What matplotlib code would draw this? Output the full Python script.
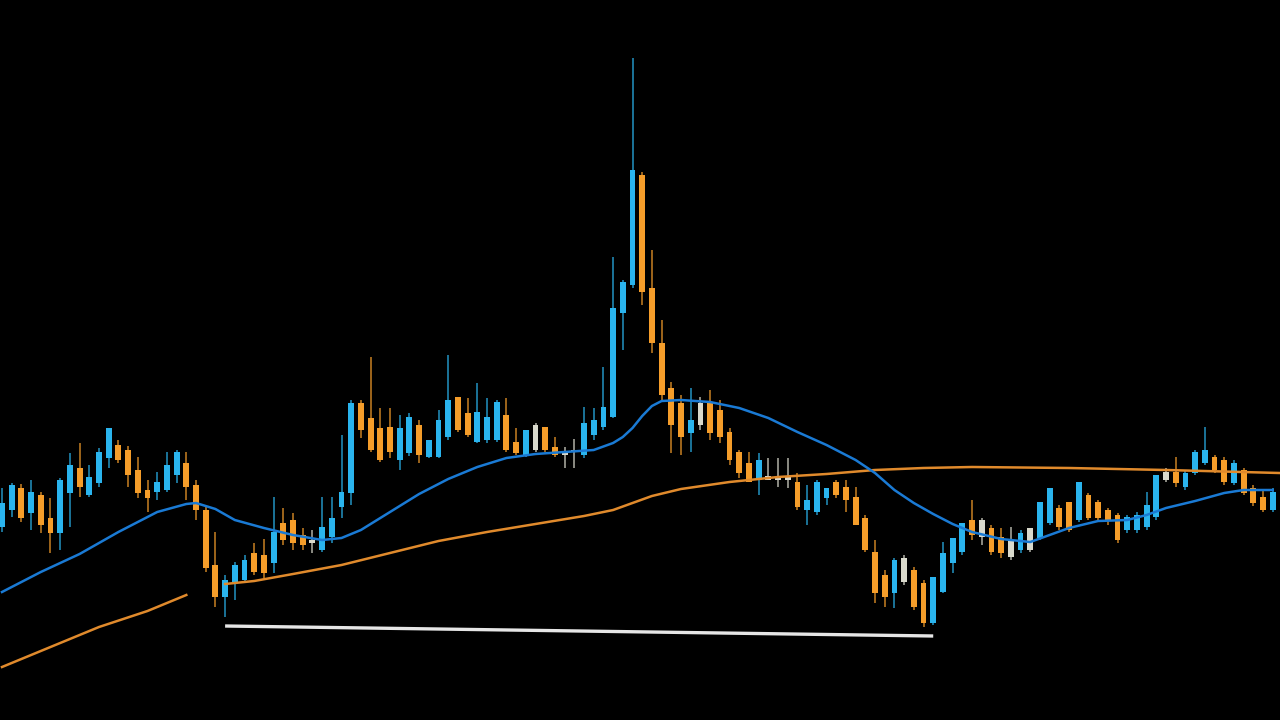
import numpy as np
import pandas as pd
import matplotlib
matplotlib.use('Agg')
import matplotlib.pyplot as plt

# candle prices (arbitrary units)
opens = [193, 210, 232, 207, 225, 202, 187, 227, 252, 225, 237, 262, 275, 270, 250, 230, 228, 230, 245, 257,
         235, 210, 155, 123, 137, 140, 167, 165, 157, 197, 200, 185, 180, 170, 183, 213, 227, 317, 302, 292,
         293, 260, 267, 295, 263, 263, 283, 323, 307, 278, 280, 280, 305, 278, 265, 270, 293, 273, 265, 268,
         265, 285, 293, 303, 407, 435, 545, 432, 377, 332, 317, 287, 295, 317, 310, 288, 268, 257, 240, 240,
         240, 240, 238, 210, 208, 222, 238, 233, 223, 202, 168, 145, 127, 138, 150, 137, 97, 128, 157, 168,
         200, 200, 192, 183, 163, 170, 170, 182, 197, 212, 218, 200, 225, 218, 210, 205, 190, 190, 193, 203,
         240, 248, 233, 247, 257, 263, 260, 237, 250, 232, 223, 210]
highs = [232, 237, 236, 240, 228, 222, 242, 267, 277, 255, 272, 292, 280, 274, 263, 240, 248, 268, 270, 268,
         240, 213, 188, 145, 158, 165, 177, 181, 223, 212, 207, 192, 190, 223, 223, 285, 320, 320, 363, 312,
         312, 305, 307, 300, 280, 310, 365, 323, 322, 337, 322, 320, 322, 292, 290, 297, 293, 283, 273, 281,
         313, 312, 353, 463, 440, 662, 548, 470, 400, 338, 325, 332, 323, 330, 320, 292, 270, 268, 267, 262,
         262, 262, 247, 235, 240, 232, 240, 240, 233, 205, 180, 150, 162, 165, 153, 140, 143, 178, 182, 197,
         220, 202, 195, 192, 193, 190, 192, 218, 232, 215, 218, 238, 227, 220, 212, 207, 205, 208, 228, 245,
         252, 263, 250, 270, 293, 265, 263, 260, 252, 235, 230, 232]
lows = [188, 203, 198, 190, 187, 167, 170, 193, 223, 223, 233, 252, 257, 233, 222, 208, 220, 228, 237, 220,
        200, 148, 113, 103, 120, 137, 145, 142, 147, 175, 170, 170, 167, 168, 177, 202, 215, 282, 268, 258,
        262, 250, 264, 257, 262, 262, 280, 288, 283, 277, 277, 278, 268, 265, 263, 268, 268, 263, 252, 252,
        262, 280, 290, 302, 370, 432, 415, 367, 320, 267, 265, 268, 290, 280, 277, 255, 242, 238, 225, 240,
        233, 232, 210, 195, 205, 215, 222, 208, 195, 168, 117, 113, 112, 135, 110, 93, 95, 127, 147, 165,
        180, 175, 165, 162, 160, 167, 168, 180, 195, 190, 188, 198, 200, 200, 195, 177, 187, 187, 190, 200,
        238, 233, 230, 245, 255, 247, 235, 235, 225, 214, 208, 208]
closes = [217, 235, 202, 228, 195, 187, 240, 255, 233, 243, 268, 292, 260, 245, 227, 222, 238, 255, 268, 233,
          210, 152, 123, 140, 155, 160, 148, 147, 188, 180, 177, 175, 177, 193, 202, 228, 317, 290, 270, 260,
          268, 292, 303, 265, 280, 300, 320, 290, 285, 308, 303, 318, 270, 267, 290, 295, 270, 265, 268, 270,
          297, 300, 313, 412, 438, 550, 428, 377, 325, 295, 283, 300, 317, 287, 283, 260, 247, 238, 260, 244,
          243, 243, 213, 220, 238, 232, 225, 220, 195, 170, 127, 123, 160, 162, 113, 97, 143, 167, 182, 197,
          185, 183, 168, 167, 180, 187, 192, 218, 232, 193, 190, 238, 202, 202, 200, 180, 203, 205, 215, 245,
          248, 237, 247, 268, 270, 250, 238, 257, 227, 217, 210, 228]
# pale (doji-like) candles
pale = [32, 55, 58, 59, 72, 79, 80, 81, 93, 101, 104, 106, 120]

# moving averages read at a few candle positions
fast_ma_idx = [0, 4, 8, 12, 16, 19, 20, 22, 24, 27, 30, 33, 35, 37, 39, 41, 43, 46, 49, 52, 55, 58, 61,
               63, 64, 65, 66, 67, 68, 70, 73, 76, 79, 82, 85, 88, 90, 92, 94, 96, 98, 100, 103, 106,
               108, 110, 113, 116, 118, 120, 123, 126, 128, 131]
fast_ma = [128, 148, 166, 188, 208, 216, 217, 211, 200, 192, 185, 180, 182, 190, 202, 214, 226, 241, 253,
           262, 266, 268, 270, 277, 283, 292, 304, 314, 319, 320, 318, 312, 302, 288, 275, 260, 247, 230,
           217, 206, 196, 188, 181, 178, 185, 192, 199, 200, 205, 212, 219, 227, 230, 230]
slow_ma_idx = [0, 5, 10, 15, 19, 21, 23, 26, 30, 35, 40, 45, 50, 55, 60, 63, 65, 67, 70, 75, 80, 85, 90,
               95, 100, 110, 120, 131.7]
slow_ma = [53, 73, 93, 109, 125, np.nan, 136, 139, 146, 155, 167, 179, 188, 196, 204, 210, 217, 224, 231,
           238, 243, 246, 250, 252, 253, 252, 250, 247]

# support line drawn between two lows
support_idx = [23, 96]
support_price = [94, 84]

df = pd.DataFrame({'Open': opens, 'High': highs, 'Low': lows, 'Close': closes})
df['pale'] = False
df.loc[pale, 'pale'] = True

blue = '#2ab4ee'
orange = '#f59d2a'
white = '#d9d9cc'

colors = []
for i, row in df.iterrows():
    if row['pale']:
        colors.append(white)
    elif row['Close'] >= row['Open']:
        colors.append(blue)
    else:
        colors.append(orange)

fig = plt.figure(figsize=(12.8, 7.2), dpi=100, facecolor='black')
ax = fig.add_axes([0, 0, 1, 1])
ax.set_facecolor('black')

x = np.arange(len(df))
bottom = np.minimum(df['Open'], df['Close'])
height = np.maximum(np.abs(df['Close'] - df['Open']), 2)

ax.vlines(x, df['Low'], df['High'], colors=colors, linewidth=1.2, alpha=0.75, zorder=2)
ax.bar(x, height, bottom=bottom, width=0.6, color=colors, zorder=3)

ax.plot(slow_ma_idx, slow_ma, color='#e08a2c', linewidth=1.8, zorder=4)
ax.plot(fast_ma_idx, fast_ma, color='#1a7ad4', linewidth=1.8, zorder=4)
ax.plot(support_idx, support_price, color='#e6e6e6', linewidth=2.4, solid_capstyle='butt', zorder=5)

ax.set_xlim(-0.206, 131.75)
ax.set_ylim(0, 720)
ax.axis('off')

fig.savefig('out.png', dpi=100, facecolor='black')
